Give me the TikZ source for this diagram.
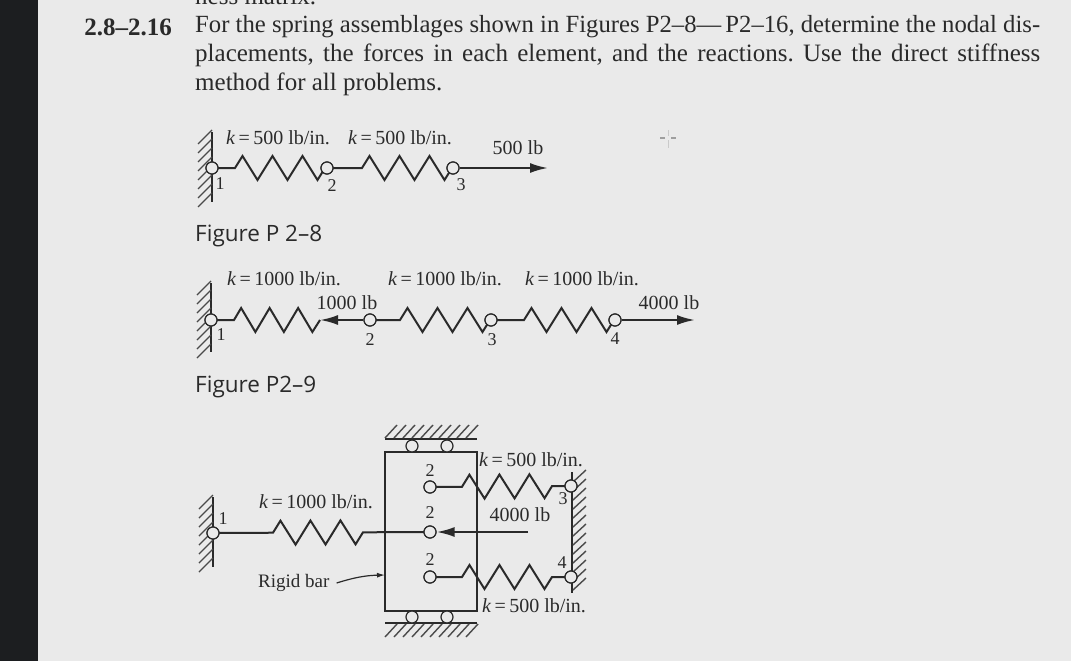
\documentclass[tikz,border=0pt]{standalone}
\usepackage{fontspec}
\setmainfont{Liberation Serif}
\newfontfamily\capfont{Open Sans}
\usetikzlibrary{decorations.pathmorphing,arrows.meta}
\definecolor{paper}{HTML}{EAEAEA}
\definecolor{ink}{HTML}{2A2A2A}
\definecolor{strip}{HTML}{1C1E20}
\tikzset{
  joint/.style={circle,draw=ink,fill=paper,line width=1.2pt,minimum size=12pt,inner sep=0pt},
  spring/.style 2 args={draw=ink,line width=2pt,decorate,decoration={zigzag,amplitude=12pt,segment length=30pt,pre length=#1,post length=#2}},
  load/.style={draw=ink,line width=2.2pt,-{Latex[length=18pt,width=10pt]}},
  wall/.style={draw=ink,line width=1.8pt},
  hatch/.style={draw=ink!85,line width=1.4pt},
  lbl/.style={text=ink,font=\fontsize{20}{20}\selectfont,inner sep=0pt},
  num/.style={text=ink,font=\fontsize{18}{18}\selectfont,inner sep=0pt},
  figcap/.style={text=ink,font=\capfont\fontsize{22.5}{22.5}\selectfont,anchor=west,inner sep=0pt},
  body/.style={text=ink,font=\fontsize{25}{25}\selectfont,anchor=west,inner sep=0pt},
}
\begin{document}
\begin{tikzpicture}[x=1pt,y=-1pt]
  \useasboundingbox (0,0) rectangle (1071,661);
  \clip (0,0) rectangle (1071,661);
  \fill[paper] (0,0) rectangle (1071,661);
  \fill[strip] (0,0) rectangle (38,661);
  % text
  \node[body] (topline) at (195,-4) {ness matrix.};
  \node[body,anchor=east] (probnum) at (172,27) {\textbf{2.8--2.16}};
  \node[body] (line1) at (195,27) {\resizebox{845pt}{!}{For the spring assemblages shown in Figures P2--8---\,P2--16, determine the nodal dis-}};
  \node[body] (line2) at (195,55) {\frenchspacing\makebox[845pt][s]{placements, the forces in each element, and the reactions. Use the direct stiffness}};
  \node[body] (line3) at (195,84) {method for all problems.};
  % cursor
  \draw[ink!45,line width=1.2pt] (660,138)--(665,138) (671,138)--(676,138);
  \draw[ink!25,line width=1pt] (668,130)--(668,136) (668,140)--(668,148);
  % P 2-8
  \draw[wall] (212,132)--(212,202);
  \foreach \y in {136,145,...,199} \draw[hatch] (212,\y-6)--(198,\y+8);
  \node[joint] (a1) at (212,168) {};
  \node[joint] (a2) at (327,168) {};
  \node[joint] (a3) at (453,168) {};
  \coordinate (aend) at (548,168);
  \draw[spring={23pt}{1pt}] (a1.center)--(a2.center);
  \draw[spring={35pt}{0.5pt}] (a2.center)--(a3.center);
  \draw[load] (a3)--(aend);
  \foreach \n in {a1,a2,a3} \node[joint] at (\n) {};
  \node[num] (a1n) at (220,184) {1};
  \node[num] (a2n) at (332,186) {2};
  \node[num] (a3n) at (461,185) {3};
  \node[lbl,anchor=west] (ak1) at (226,138) {\textit{k}\,=\,500 lb/in.};
  \node[lbl,anchor=west] (ak2) at (348,138) {\textit{k}\,=\,500 lb/in.};
  \node[lbl] (af) at (518,148) {500 lb};
  \node[figcap] (acap) at (195,236) {Figure P 2–8};
  % P 2-9
  \draw[wall] (211,283)--(211,352);
  \foreach \y in {287,296,...,350} \draw[hatch] (211,\y-6)--(197,\y+8);
  \node[joint] (b1) at (211,320) {};
  \node[joint] (b2) at (370,320) {};
  \node[joint] (b3) at (491,320) {};
  \node[joint] (b4) at (615,320) {};
  \coordinate (btip) at (320,320);
  \coordinate (bend) at (695,320);
  \draw[spring={23pt}{0.5pt},decoration={segment length=28.5pt}] (b1.center)--(btip);
  \draw[load] (b2)--(btip);
  \draw[spring={30pt}{0.5pt}] (b2.center)--(b3.center);
  \draw[spring={33pt}{0.5pt}] (b3.center)--(b4.center);
  \draw[load] (b4)--(bend);
  \foreach \n in {b1,b2,b3,b4} \node[joint] at (\n) {};
  \node[num] (b1n) at (221,335) {1};
  \node[num] (b2n) at (370,340) {2};
  \node[num] (b3n) at (492,340) {3};
  \node[num] (b4n) at (615,339) {4};
  \node[lbl,anchor=west] (bk1) at (227,279) {\textit{k}\,=\,1000 lb/in.};
  \node[lbl,anchor=west] (bk2) at (388,279) {\textit{k}\,=\,1000 lb/in.};
  \node[lbl,anchor=west] (bk3) at (525,279) {\textit{k}\,=\,1000 lb/in.};
  \node[lbl] (bf1) at (347,303) {1000 lb};
  \node[lbl] (bf2) at (669,303) {4000 lb};
  \node[figcap] (bcap) at (195,387) {Figure P2–9};
  % rigid bar
  \draw[wall] (213,497)--(213,567);
  \foreach \y in {501,510,...,565} \draw[hatch] (213,\y-6)--(199,\y+8);
  \draw[draw=ink,line width=1.4pt] (385,452) rectangle (477,611);
  \draw[wall] (385,439)--(477,439);
  \draw[wall] (385,623)--(477,623);
  \foreach \x in {391,400,...,480} \draw[hatch] (\x-6,438)--(\x+6,425);
  \foreach \x in {391,400,...,480} \draw[hatch] (\x-6,637)--(\x+6,624);
  \draw[wall] (572,472)--(572,593);
  \foreach \y in {476,485,...,590} \draw[hatch] (573,\y+6)--(586,\y-6);
  \node[joint] (r1) at (412,446) {};
  \node[joint] (r2) at (447,446) {};
  \node[joint] (r3) at (412,617) {};
  \node[joint] (r4) at (447,617) {};
  \node[joint] (c1) at (213,533) {};
  \node[joint] (c2a) at (430,487) {};
  \node[joint] (c2b) at (430,532) {};
  \node[joint] (c2c) at (430,577) {};
  \node[joint] (c3) at (571,486) {};
  \node[joint] (c4) at (571,577) {};
  \coordinate (cforce) at (528,532);
  \coordinate (barpt) at (385,575);
  \draw[spring={60pt}{66pt}] (c1.center)--(c2b.center);
  \draw[spring={32pt}{18pt}] (c2a.center)--(c3.center);
  \draw[spring={32pt}{18pt}] (c2c.center)--(c4.center);
  \draw[load] (cforce)--(c2b);
  \foreach \n in {c1,c2a,c2b,c2c,c3,c4} \node[joint] at (\n) {};
  \node[num] (c1n) at (223,519) {1};
  \node[num] (c2an) at (430,471) {2};
  \node[num] (c2bn) at (430,513) {2};
  \node[num] (c2cn) at (430,560) {2};
  \node[num] (c3n) at (563,499) {3};
  \node[num] (c4n) at (562,563) {4};
  \node[lbl,anchor=west] (ck1) at (259,502) {\textit{k}\,=\,1000 lb/in.};
  \node[lbl,anchor=west] (ck2) at (479,460) {\textit{k}\,=\,500 lb/in.};
  \node[lbl,anchor=west] (ck3) at (482,606) {\textit{k}\,=\,500 lb/in.};
  \node[lbl] (cf) at (520,515) {4000 lb};
  \node[lbl,anchor=west,font=\fontsize{19}{19}\selectfont] (rigid) at (258,583) {Rigid bar};
  \draw[draw=ink,line width=1.2pt,-{Latex[length=8pt,width=5pt]}] (rigid.east) ++(7,0) to[bend left=8] (barpt);
\end{tikzpicture}
\end{document}
